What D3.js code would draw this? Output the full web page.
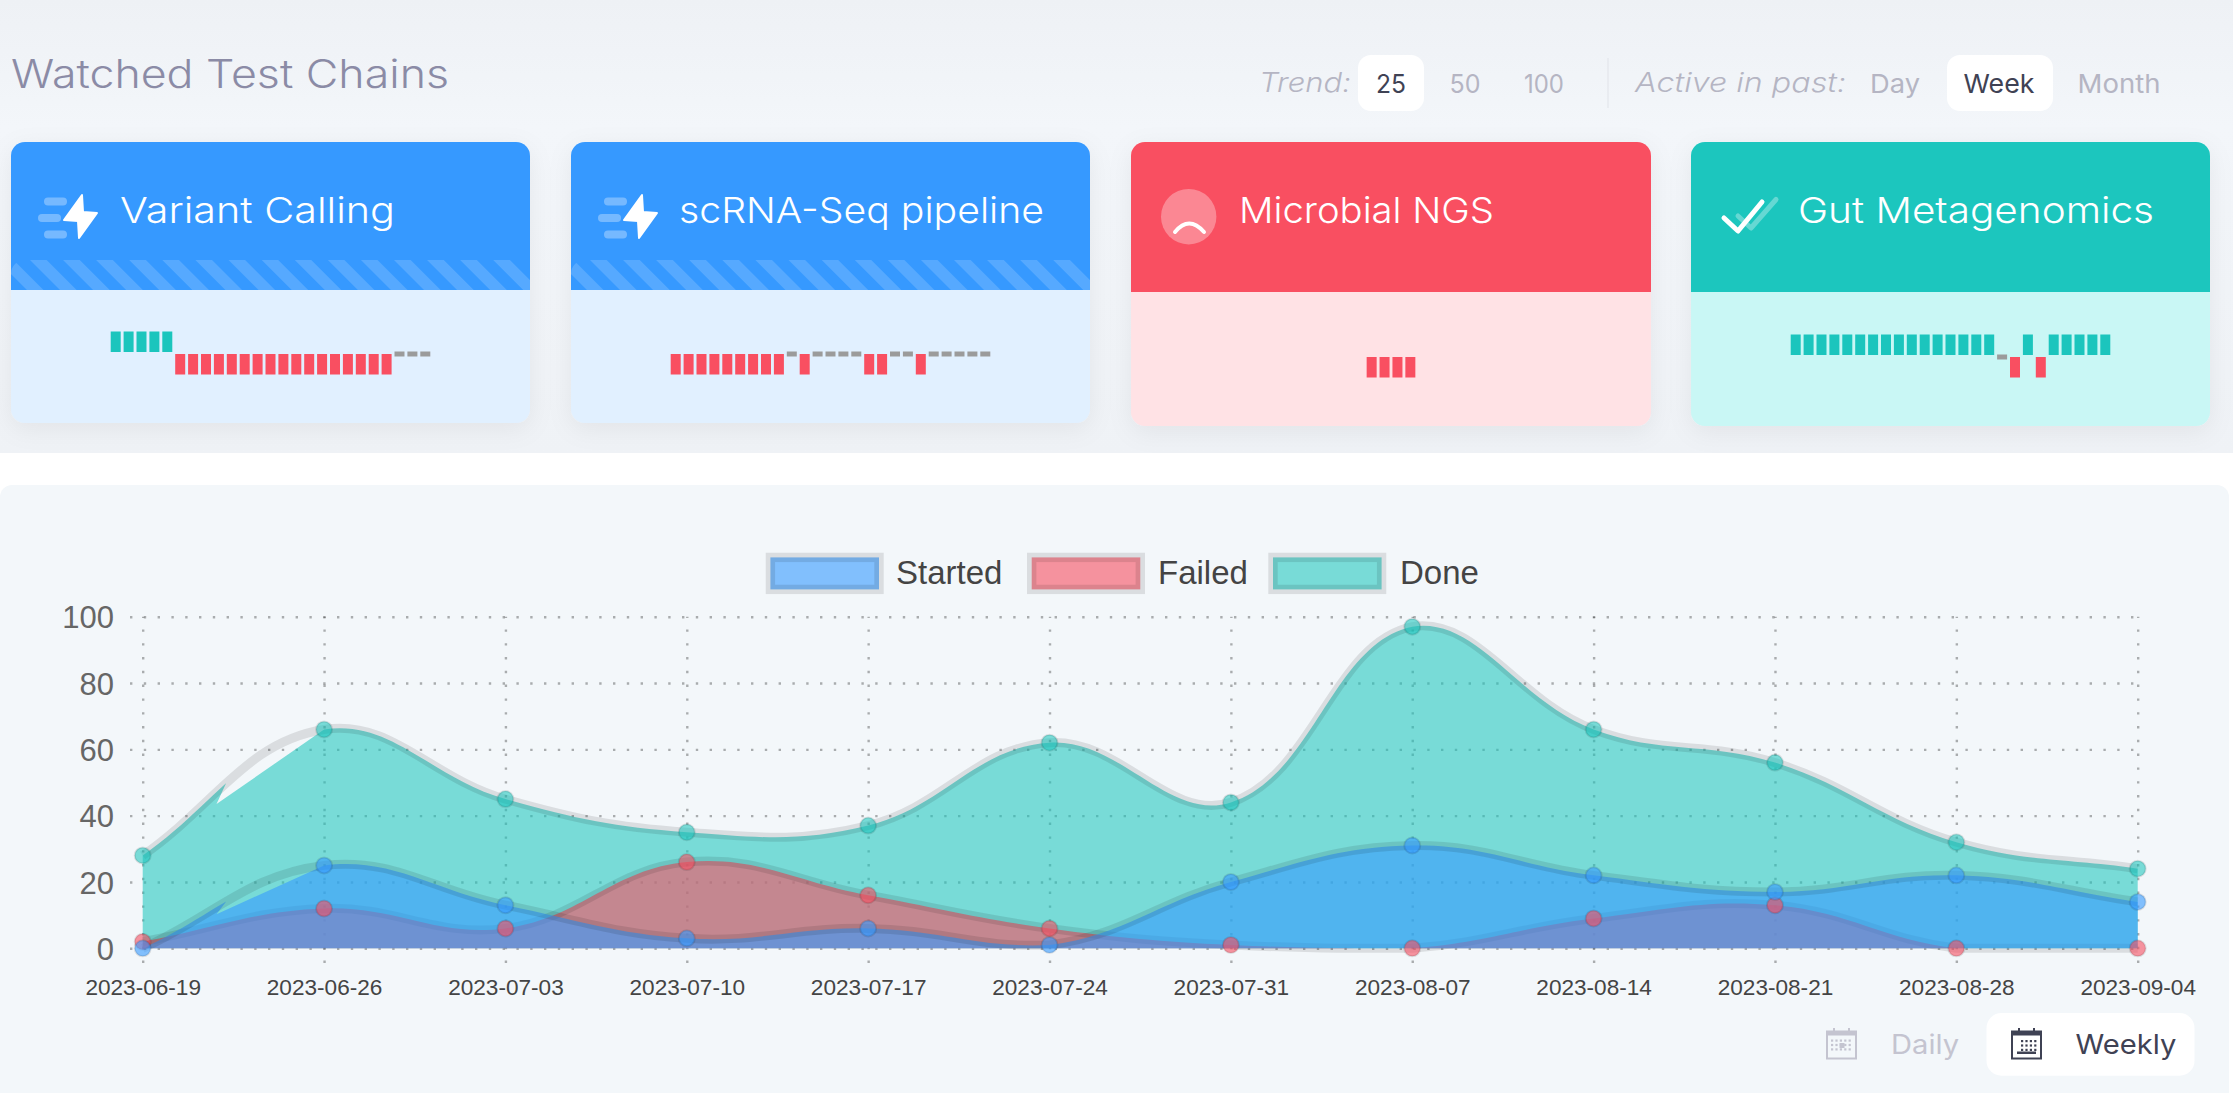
<!DOCTYPE html>
<html>
<head>
<meta charset="utf-8">
<script src="https://cdn.jsdelivr.net/npm/d3@7"></script>
<style>
  body { margin: 0; background: #fff; }
  svg { display: block; }
  .ui { font-family: Inter, "Open Sans", sans-serif; }
  .chart text { font-family: "Liberation Sans", Arial, sans-serif; }
</style>
</head>
<body>
<div id="page"></div>
<script>
// chart values
var weekLabels = ['2023-06-19', '2023-06-26', '2023-07-03', '2023-07-10', '2023-07-17', '2023-07-24',
  '2023-07-31', '2023-08-07', '2023-08-14', '2023-08-21', '2023-08-28', '2023-09-04'];
var startedValues = [0, 25, 13, 3, 6, 1, 20, 31, 22, 17, 22, 14];
var failedValues = [2, 12, 6, 26, 16, 6, 1, 0, 9, 13, 0, 0];
var doneValues = [28, 66, 45, 35, 37, 62, 44, 97, 66, 56, 32, 24];
var yTicks = [0, 20, 40, 60, 80, 100];
var legendNames = ['Started', 'Failed', 'Done'];

// torn part of the fill in the first segment: [days after first week, value]
var doneGap = [[2.85, 43.5], [3.2, 49.5], [3.2, 85], [7, 85], [7, 66]];
var startedGap = [[2.85, 10.3], [3.2, 13.9], [3.2, 34], [7, 34], [7, 25]];

// test chain cards: 1 done, -1 failed, 0 started
var cardNames = ['Variant Calling', 'scRNA-Seq pipeline', 'Microbial NGS', 'Gut Metagenomics'];
var variantTrend = [1, 1, 1, 1, 1, -1, -1, -1, -1, -1, -1, -1, -1, -1, -1, -1, -1, -1, -1, -1, -1, -1, 0, 0, 0];
var scrnaTrend = [-1, -1, -1, -1, -1, -1, -1, -1, -1, 0, -1, 0, 0, 0, 0, -1, -1, 0, 0, -1, 0, 0, 0, 0, 0];
var microbialTrend = [-1, -1, -1, -1];
var gutTrend = [1, 1, 1, 1, 1, 1, 1, 1, 1, 1, 1, 1, 1, 1, 1, 1, 0, -1, 1, -1, 1, 1, 1, 1, 1];

var blue = '#3699FF', red = '#F64E60', teal = '#1BC5BD';
var muted = '#B5B5C3', dark = '#3F4254';

var svg = d3.select('#page').append('svg').attr('width', 2233).attr('height', 1093);
var defs = svg.append('defs');

// backgrounds
var topGrad = defs.append('linearGradient').attr('id', 'topGrad').attr('x2', 0).attr('y2', 1);
topGrad.append('stop').attr('offset', 0).attr('stop-color', '#eef1f5');
topGrad.append('stop').attr('offset', 0.28).attr('stop-color', '#f3f6fa');
topGrad.append('stop').attr('offset', 1).attr('stop-color', '#eff2f6');
svg.append('rect').attr('width', 2233).attr('height', 453).attr('fill', 'url(#topGrad)');
svg.append('rect').attr('y', 485).attr('width', 2229).attr('height', 640).attr('rx', 12).attr('fill', '#f3f7fa');

var shadow = defs.append('filter').attr('id', 'cardShadow')
  .attr('x', '-10%').attr('y', '-10%').attr('width', '120%').attr('height', '125%');
shadow.append('feDropShadow').attr('dx', 0).attr('dy', 6).attr('stdDeviation', 12)
  .attr('flood-color', '#000').attr('flood-opacity', 0.06);

// text helper, widths are forced so the layout holds with the installed fonts
function label(parent, x, y, text, size, color, width, opts) {
  opts = opts || {};
  return parent.append('text').attr('class', 'ui')
    .attr('x', x).attr('y', y)
    .attr('font-size', size)
    .attr('font-weight', opts.weight || 300)
    .attr('font-style', opts.italic ? 'italic' : 'normal')
    .attr('text-anchor', opts.anchor || 'start')
    .attr('fill', color)
    .attr('textLength', width)
    .attr('lengthAdjust', 'spacingAndGlyphs')
    .text(text);
}

// header
label(svg, 11, 88, 'Watched Test Chains', 39, '#8b8ba6', 438);
svg.append('rect').attr('x', 1358).attr('y', 55).attr('width', 66).attr('height', 56).attr('rx', 13).attr('fill', '#fff');
svg.append('rect').attr('x', 1947).attr('y', 55).attr('width', 106).attr('height', 56).attr('rx', 13).attr('fill', '#fff');
svg.append('line').attr('x1', 1608).attr('x2', 1608).attr('y1', 58).attr('y2', 108).attr('stroke', '#e6e9ee').attr('stroke-width', 1.5);
label(svg, 1259, 92, 'Trend:', 27, muted, 92, {italic: true});
label(svg, 1635, 92, 'Active in past:', 27, muted, 211, {italic: true});
label(svg, 1391, 93, '25', 26, dark, 30, {anchor: 'middle', weight: 400});
label(svg, 1465, 93, '50', 26, muted, 31, {anchor: 'middle', weight: 400});
label(svg, 1544, 93, '100', 26, muted, 40, {anchor: 'middle', weight: 400});
label(svg, 1895, 93, 'Day', 26, muted, 50, {anchor: 'middle', weight: 400});
label(svg, 1999, 93, 'Week', 26, dark, 71, {anchor: 'middle', weight: 400});
label(svg, 2119, 93, 'Month', 26, muted, 83, {anchor: 'middle', weight: 400});

// cards
var cardHead = [blue, blue, '#F94F61', '#1CC6BE'];
var cardBody = ['#E1F0FF', '#E1F0FF', '#FFE2E5', '#C9F7F5'];
var cardX = [11, 571, 1131, 1691];
var cardW = [519, 519, 520, 519];
var cardHeadH = [148, 148, 150, 150];
var cardH = [281, 281, 284, 284];
var titleX = [109, 108, 108, 107];
var titleW = [275, 365, 255, 356];
var cardTrend = [variantTrend, scrnaTrend, microbialTrend, gutTrend];
var sparkStep = 12.9, sparkPad = 0.225;

var stripes = defs.append('pattern').attr('id', 'stripes').attr('patternUnits', 'userSpaceOnUse')
  .attr('width', 23.4).attr('height', 23.4)
  .attr('patternTransform', 'translate(18 117) rotate(-45)');
stripes.append('rect').attr('width', 11.7).attr('height', 23.4).attr('fill', '#fff').attr('fill-opacity', 0.16);

var sparkY = d3.scaleLinear().domain([-1, 1]).range([20.5, -20.5]);

cardNames.forEach(function(name, i) {
  var w = cardW[i], hh = cardHeadH[i], h = cardH[i], trend = cardTrend[i];
  var card = svg.append('g').attr('transform', 'translate(' + cardX[i] + ',142)');

  card.append('rect').attr('width', w).attr('height', h).attr('rx', 14).attr('fill', cardBody[i]).attr('filter', 'url(#cardShadow)');
  card.append('path').attr('fill', cardHead[i])
    .attr('d', 'M0,' + hh + 'V14A14,14 0 0 1 14,0H' + (w - 14) + 'A14,14 0 0 1 ' + w + ',14V' + hh + 'Z');

  if (i < 2) {
    card.append('path').attr('fill', 'url(#stripes)')
      .attr('d', 'M0,' + hh + 'V' + (hh - 16) + 'A14,14 0 0 1 14,' + (hh - 30) + 'H' + (w - 14) + 'A14,14 0 0 1 ' + w + ',' + (hh - 16) + 'V' + hh + 'Z');
    // speed icon
    card.selectAll('.pill').data([33, 27, 33]).enter().append('rect')
      .attr('x', function(d) { return d; })
      .attr('y', function(d, k) { return 55.5 + k * 16.5; })
      .attr('width', 23).attr('height', 8).attr('rx', 4)
      .attr('fill', '#fff').attr('fill-opacity', 0.32);
    card.append('path').attr('d', 'M71,53 L53,78 L67,79 L68,96 L86,71 L72,70 Z')
      .attr('fill', '#fff').attr('stroke', '#fff').attr('stroke-width', 2).attr('stroke-linejoin', 'round');
  } else if (i == 2) {
    card.append('circle').attr('cx', 57.7).attr('cy', 74.7).attr('r', 27.7).attr('fill', '#fff').attr('fill-opacity', 0.32);
    card.append('path').attr('d', 'M44,90 Q58,73 73,90').attr('fill', 'none')
      .attr('stroke', '#fff').attr('stroke-width', 4).attr('stroke-linecap', 'round');
  } else {
    card.append('path').attr('d', 'M47,74 L60,86 L85,57.5').attr('fill', 'none').attr('stroke', '#fff')
      .attr('stroke-opacity', 0.32).attr('stroke-width', 5).attr('stroke-linecap', 'round').attr('stroke-linejoin', 'round');
    card.append('path').attr('d', 'M33,76 L47,89 L71,60').attr('fill', 'none').attr('stroke', '#fff')
      .attr('stroke-width', 5).attr('stroke-linecap', 'round').attr('stroke-linejoin', 'round');
  }

  label(card, titleX[i], 81, name, 36, '#fff', titleW[i]);

  // sparkline
  var sparkW = (trend.length - sparkPad) * sparkStep;
  var sparkX = d3.scaleBand().domain(d3.range(trend.length))
    .range([w / 2 - sparkW / 2, w / 2 + sparkW / 2]).paddingInner(sparkPad);
  var base = (i < 2 ? 211 : 214);
  card.selectAll('.spark').data(trend).enter().append('rect')
    .attr('x', function(d, k) { return sparkX(k); })
    .attr('width', sparkX.bandwidth())
    .attr('y', function(d) {
      if (d > 0) return base + sparkY(d) - 1;
      if (d < 0) return base + 1;
      return base - 1.5;
    })
    .attr('height', function(d) { return d == 0 ? 5 : sparkY(-1); })
    .attr('fill', function(d) { return d > 0 ? teal : d < 0 ? '#F94F61' : '#9b9b9b'; });
});

// area chart
var parseDay = d3.utcParse('%Y-%m-%d');
var weeks = weekLabels.map(parseDay);
var chartTop = 616.7, chartBottom = 948.3, chartLeft = 142.7, chartRight = 2137.7;

var x = d3.scaleUtc().domain([weeks[0], weeks[weeks.length - 1]]).range([chartLeft, chartRight]);
var y = d3.scaleLinear().domain([0, 100]).range([chartBottom, chartTop]);

var chart = svg.append('g').attr('class', 'chart');

var yAxis = d3.axisLeft(y).tickValues(yTicks).tickSize(-(chartRight - 130)).tickPadding(16);
var xAxis = d3.axisBottom(x).tickValues(weeks).tickSize(-(963 - chartTop))
  .tickPadding(16).tickFormat(d3.utcFormat('%Y-%m-%d'));

var gy = chart.append('g').attr('transform', 'translate(130,0)').call(yAxis);
var gx = chart.append('g').attr('transform', 'translate(0,963)').call(xAxis);
gy.select('.domain').remove();
gx.select('.domain').remove();
gy.selectAll('line').attr('stroke', 'rgba(0,0,0,0.3)').attr('stroke-width', 2.4).attr('stroke-dasharray', '2.4 11.4');
gx.selectAll('line').attr('stroke', 'rgba(0,0,0,0.3)').attr('stroke-width', 2.4).attr('stroke-dasharray', '2.4 11.4');
gy.selectAll('text').attr('font-size', 31).attr('fill', '#666').attr('dy', '0.36em');
gx.selectAll('text').attr('font-size', 22.6).attr('fill', '#444');

// same spline as the original chart lib (tension 0.4), control points kept inside the plot
function tensionCurve(context) {
  var pts, line;
  function cap(v) { return Math.max(chartTop, Math.min(chartBottom, v)); }
  return {
    areaStart: function() { line = 0; },
    areaEnd: function() { line = NaN; },
    lineStart: function() { pts = []; },
    point: function(px, py) { pts.push([+px, +py]); },
    lineEnd: function() {
      var ctrl = pts.map(function(p, i) {
        var a = pts[i - 1] || p, b = pts[i + 1] || p;
        var d01 = Math.hypot(p[0] - a[0], p[1] - a[1]), d12 = Math.hypot(b[0] - p[0], b[1] - p[1]);
        var fa = 0.4 * d01 / (d01 + d12), fb = 0.4 * d12 / (d01 + d12);
        return {
          inX: p[0] - fa * (b[0] - a[0]), inY: cap(p[1] - fa * (b[1] - a[1])),
          outX: p[0] + fb * (b[0] - a[0]), outY: cap(p[1] + fb * (b[1] - a[1]))
        };
      });
      pts.forEach(function(p, i) {
        if (i == 0) {
          if (line) context.lineTo(p[0], p[1]); else context.moveTo(p[0], p[1]);
        } else {
          context.bezierCurveTo(ctrl[i - 1].outX, ctrl[i - 1].outY, ctrl[i].inX, ctrl[i].inY, p[0], p[1]);
        }
      });
      if (line) context.closePath();
      line = 1 - line;
    }
  };
}

function dayX(d) { return x(new Date(+weeks[0] + d * 864e5)); }

function gapClip(id, gap) {
  var poly = gap.map(function(p) { return dayX(p[0]) + ',' + y(p[1]); }).join('L');
  defs.append('clipPath').attr('id', id).append('path')
    .attr('clip-rule', 'evenodd')
    .attr('d', 'M0,0H2233V1093H0Z M' + poly + 'Z');
}
gapClip('doneClip', doneGap);
gapClip('startedClip', startedGap);

var line = d3.line().x(function(d, i) { return x(weeks[i]); }).y(function(d) { return y(d); }).curve(tensionCurve);
var area = d3.area().x(function(d, i) { return x(weeks[i]); }).y0(y(0)).y1(function(d) { return y(d); }).curve(tensionCurve);

// teal reads a little lighter than the other two in the original
function fillOf(c) { var k = d3.color(c); k.opacity = c == teal ? 0.57 : 0.6; return k + ''; }

// first dataset ends up on top, as in the original
function drawSeries(values, color, clipId) {
  var g = chart.append('g');
  var fill = g.append('path').attr('d', area(values)).attr('fill', fillOf(color));
  if (clipId) fill.attr('clip-path', 'url(#' + clipId + ')');
  g.append('path').attr('d', line(values)).attr('fill', 'none')
    .attr('stroke', 'rgba(0,0,0,0.1)').attr('stroke-width', 9);
}
function drawPoints(values, color) {
  chart.append('g').selectAll('circle').data(values).enter().append('circle')
    .attr('cx', function(d, i) { return x(weeks[i]); })
    .attr('cy', function(d) { return y(d); })
    .attr('r', 8)
    .attr('fill', fillOf(color))
    .attr('stroke', 'rgba(0,0,0,0.1)').attr('stroke-width', 2);
}
drawSeries(doneValues, teal, 'doneClip');
drawSeries(failedValues, red);
drawSeries(startedValues, blue, 'startedClip');
// points sit over all of the fills
drawPoints(doneValues, teal);
drawPoints(failedValues, red);
drawPoints(startedValues, blue);

// legend
var legendColors = [blue, red, teal];
var legendBoxX = [770.4, 1031.7, 1273];
var legendTextX = [896, 1158, 1400];
var legend = chart.selectAll('.legendItem').data(legendNames).enter().append('g').attr('class', 'legendItem');
legend.append('rect')
  .attr('x', function(d, i) { return legendBoxX[i]; })
  .attr('y', 557.4).attr('width', 108.6).attr('height', 32)
  .attr('fill', function(d, i) { return fillOf(legendColors[i]); })
  .attr('stroke', 'rgba(0,0,0,0.1)').attr('stroke-width', 9.4);
legend.append('text')
  .attr('x', function(d, i) { return legendTextX[i]; })
  .attr('y', 584).attr('font-size', 33).attr('fill', '#444')
  .text(function(d) { return d; });

// calendar icons and the daily / weekly switch
function calendar(cx, cy, color, weekly) {
  var g = svg.append('g').attr('transform', 'translate(' + cx + ',' + cy + ')').attr('fill', color);
  g.append('rect').attr('x', 1).attr('y', 3.5).attr('width', 29).attr('height', 27)
    .attr('fill', 'none').attr('stroke', color).attr('stroke-width', 2);
  g.append('rect').attr('x', 1).attr('y', 3.5).attr('width', 29).attr('height', 4);
  [7, 22].forEach(function(rx) { g.append('rect').attr('x', rx).attr('y', 0).attr('width', 2).attr('height', 6); });
  d3.range(3).forEach(function(r) {
    d3.range(weekly ? 4 : 5).forEach(function(c) {
      g.append('rect').attr('x', (weekly ? 10 : 5) + c * 4.4).attr('y', (weekly ? 12 : 11.5) + r * 4.4).attr('width', 2.2).attr('height', 2.2);
    });
  });
  if (weekly) g.append('rect').attr('x', 6).attr('y', 23.5).attr('width', 19).attr('height', 2.5);
  else g.append('rect').attr('x', 13.5).attr('y', 15).attr('width', 5).attr('height', 5);
}
svg.append('rect').attr('x', 1986.5).attr('y', 1013).attr('width', 208).attr('height', 62.7).attr('rx', 15).attr('fill', '#fff');
calendar(1826, 1028, '#c4c4d0', false);
calendar(2011, 1028, dark, true);
label(svg, 1891, 1054, 'Daily', 27, '#c4c4d0', 68, {weight: 400});
label(svg, 2075.5, 1054, 'Weekly', 27, dark, 101, {weight: 400});
</script>
</body>
</html>
